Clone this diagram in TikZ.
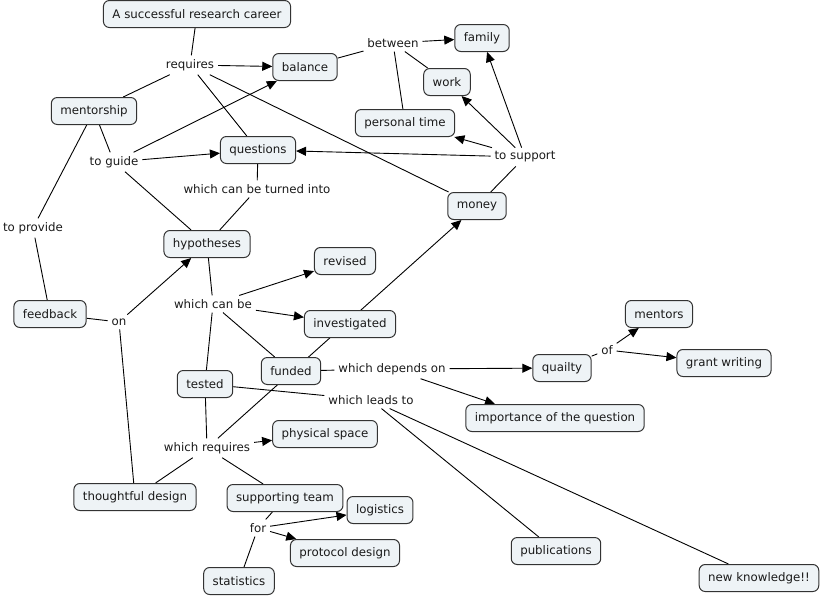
\documentclass[tikz,border=0pt]{standalone}
\usepackage{fontspec}
\setmainfont{DejaVu Sans}
\usetikzlibrary{arrows.meta,backgrounds}
\definecolor{cfill}{HTML}{EEF3F6}
\definecolor{cline}{HTML}{333333}
\definecolor{ctext}{HTML}{1A1A1A}
\tikzset{
  concept/.style={draw=cline, fill=cfill, rounded corners=6pt, line width=1pt,
    minimum height=27pt, inner xsep=9pt, inner ysep=2pt, text=ctext, font=\fontsize{11.8}{14}\selectfont},
  linkph/.style={inner sep=2pt, outer sep=2pt, text=ctext, font=\fontsize{11.8}{14}\selectfont},
  conn/.style={draw=black, line width=0.9pt},
  arr/.style={conn, -{Triangle[length=10pt,width=9pt]}},
}
\begin{document}
\begin{tikzpicture}[x=1pt,y=-1pt]
\useasboundingbox (0,0) rectangle (820,595);
% concepts
\node[concept] (career) at (197,14) {A successful research career};
\node[concept] (balance) at (305,67) {balance};
\node[concept] (family) at (482,38) {family};
\node[concept] (work) at (447,82) {work};
\node[concept] (ptime) at (405,123) {personal time};
\node[concept] (money) at (477,206) {money};
\node[concept] (mentorship) at (94,111) {mentorship};
\node[concept] (questions) at (258,150) {questions};
\node[concept] (hypotheses) at (207,244) {hypotheses};
\node[concept] (feedback) at (50,314) {feedback};
\node[concept] (revised) at (345,261) {revised};
\node[concept] (investigated) at (350,324) {investigated};
\node[concept] (funded) at (291,371) {funded};
\node[concept] (quailty) at (562,368) {quailty};
\node[concept] (mentors) at (659,314) {mentors};
\node[concept] (grant) at (724,363) {grant writing};
\node[concept] (importance) at (555,418) {importance of the question};
\node[concept] (tested) at (205,384) {tested};
\node[concept] (physical) at (325,434) {physical space};
\node[concept] (thoughtful) at (135,497) {thoughtful design};
\node[concept] (team) at (285,498) {supporting team};
\node[concept] (logistics) at (380,510) {logistics};
\node[concept] (protocol) at (345,553) {protocol design};
\node[concept] (statistics) at (239,581) {statistics};
\node[concept] (publications) at (556,551) {publications};
\node[concept] (newk) at (759,578) {new knowledge!!};
% linking phrases
\node[linkph] (requires) at (190,65) {requires};
\node[linkph] (between) at (393,43) {between};
\node[linkph] (support) at (525,157) {to support};
\node[linkph] (toguide) at (114,162) {to guide};
\node[linkph] (turned) at (257,189) {which can be turned into};
\node[linkph] (provide) at (33,228) {to provide};
\node[linkph] (on) at (119,322) {on};
\node[linkph] (canbe) at (213,304) {which can be};
\node[linkph] (depends) at (392,369) {which depends on};
\node[linkph] (of) at (607,350) {of};
\node[linkph] (leads) at (371,400) {which leads to};
\node[linkph] (wreq) at (207,448) {which requires};
\node[linkph] (for) at (258,528) {for};
\begin{pgfonlayer}{background}
\draw[conn] (career) -- (requires);
\draw[arr] (requires) -- (balance);
\draw[conn] (requires) -- (mentorship);
\draw[conn] (requires) -- (questions);
\draw[conn] (requires) -- (money);
\draw[conn] (balance) -- (between);
\draw[arr] (between) -- (family);
\draw[conn] (between) -- (work);
\draw[conn] (between) -- (ptime);
\draw[conn] (money) -- (support);
\draw[arr] (support) -- (family);
\draw[arr] (support) -- (work);
\draw[arr] (support) -- (ptime);
\draw[arr] (support) -- (questions);
\draw[conn] (mentorship) -- (toguide);
\draw[arr] (toguide) -- (questions);
\draw[arr] (toguide) -- (balance);
\draw[conn] (toguide) -- (hypotheses);
\draw[conn] (questions) -- (turned);
\draw[conn] (turned) -- (hypotheses);
\draw[conn] (mentorship) -- (provide);
\draw[conn] (provide) -- (feedback);
\draw[conn] (feedback) -- (on);
\draw[arr] (on) -- (hypotheses);
\draw[conn] (thoughtful) -- (on);
\draw[conn] (hypotheses) -- (canbe);
\draw[arr] (canbe) -- (revised);
\draw[arr] (canbe) -- (investigated);
\draw[conn] (canbe) -- (funded);
\draw[conn] (canbe) -- (tested);
\draw[conn] (funded) -- (depends);
\draw[arr] (depends) -- ([xshift=-60pt]importance.north);
\draw[arr] (depends) -- (quailty);
\draw[conn] (quailty) -- (of);
\draw[arr] (of) -- (mentors);
\draw[arr] (of) -- (grant);
\draw[conn] (tested) -- (leads);
\draw[conn] (leads) -- (publications);
\draw[conn] (leads) -- (newk);
\draw[conn] (tested) -- (wreq);
\draw[arr] (wreq) -- (physical);
\draw[conn] (wreq) -- (thoughtful);
\draw[conn] (wreq) -- (team);
\draw[arr] (wreq) -- (money);
\draw[conn] (team) -- (for);
\draw[arr] (for) -- (logistics);
\draw[arr] (for) -- (protocol);
\draw[conn] (statistics) -- (for);
\end{pgfonlayer}
\end{tikzpicture}
\end{document}
